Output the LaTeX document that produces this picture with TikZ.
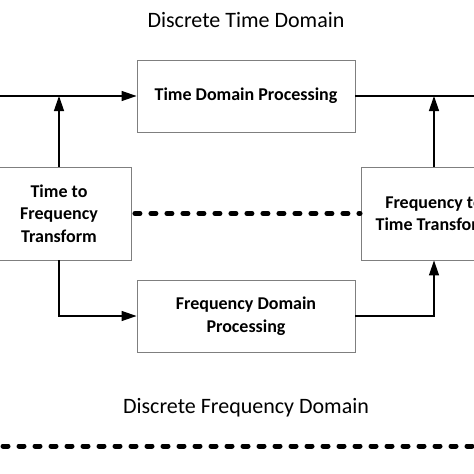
\documentclass[tikz,border=0pt]{standalone}
\usepackage{fontspec}
\setmainfont{Carlito}
\usetikzlibrary{arrows.meta,positioning}
\definecolor{boxgray}{HTML}{7F7F7F}

\begin{document}
\begin{tikzpicture}[
  x=1pt, y=1pt,
  font=\fontsize{22}{26}\selectfont,
  box/.style={draw=boxgray, line width=0.9pt, align=center, inner sep=0pt,
              minimum width=218pt, minimum height=72pt,
              font=\fontsize{18}{22.5}\selectfont\bfseries},
  xform/.style={box, minimum width=145pt, minimum height=93pt},
  arrow/.style={-{Triangle[length=15pt, width=10pt]}, line width=1.3pt},
  wire/.style={line width=1.3pt},
  divider/.style={line width=5pt, dash pattern=on 5pt off 11pt, line cap=round}
]
  \clip (0,0) rectangle (474,-474);

  \node (timetitle) at (246,-20) {Discrete Time Domain};
  \node[box] (tdp) at (246,-96) {Time Domain Processing};
  \node[xform] (ttf) at (59,-213.5) {Time to\\Frequency\\Transform};
  \node[xform] (ftt) at (434,-213.5) {Frequency to\\Time Transform};
  \node[box, below=220pt of tdp.north] (fdp) {Frequency Domain\\Processing};
  \node (freqtitle) at (246,-408) {Discrete Frequency Domain};

  \coordinate (in) at (-5,-96);
  \coordinate (out) at (480,-96);
  \coordinate (lft) at (3,-446);
  \coordinate (rgt) at (480,-446);

  \draw[arrow] (in) -- (tdp.west);
  \draw[wire] (tdp.east) -- (out);
  \draw[arrow] (ttf.north) -- (ttf.north |- tdp.west);
  \draw[arrow] (ftt.north) -- (ftt.north |- tdp.east);
  \draw[arrow] (ttf.south) |- (fdp.west);
  \draw[arrow] (fdp.east) -| (ftt.south);

  \draw[divider] ([xshift=3pt]ttf.east) -- ([xshift=-1pt]ftt.west);
  \draw[divider] (lft) -- (rgt);
\end{tikzpicture}
\end{document}
